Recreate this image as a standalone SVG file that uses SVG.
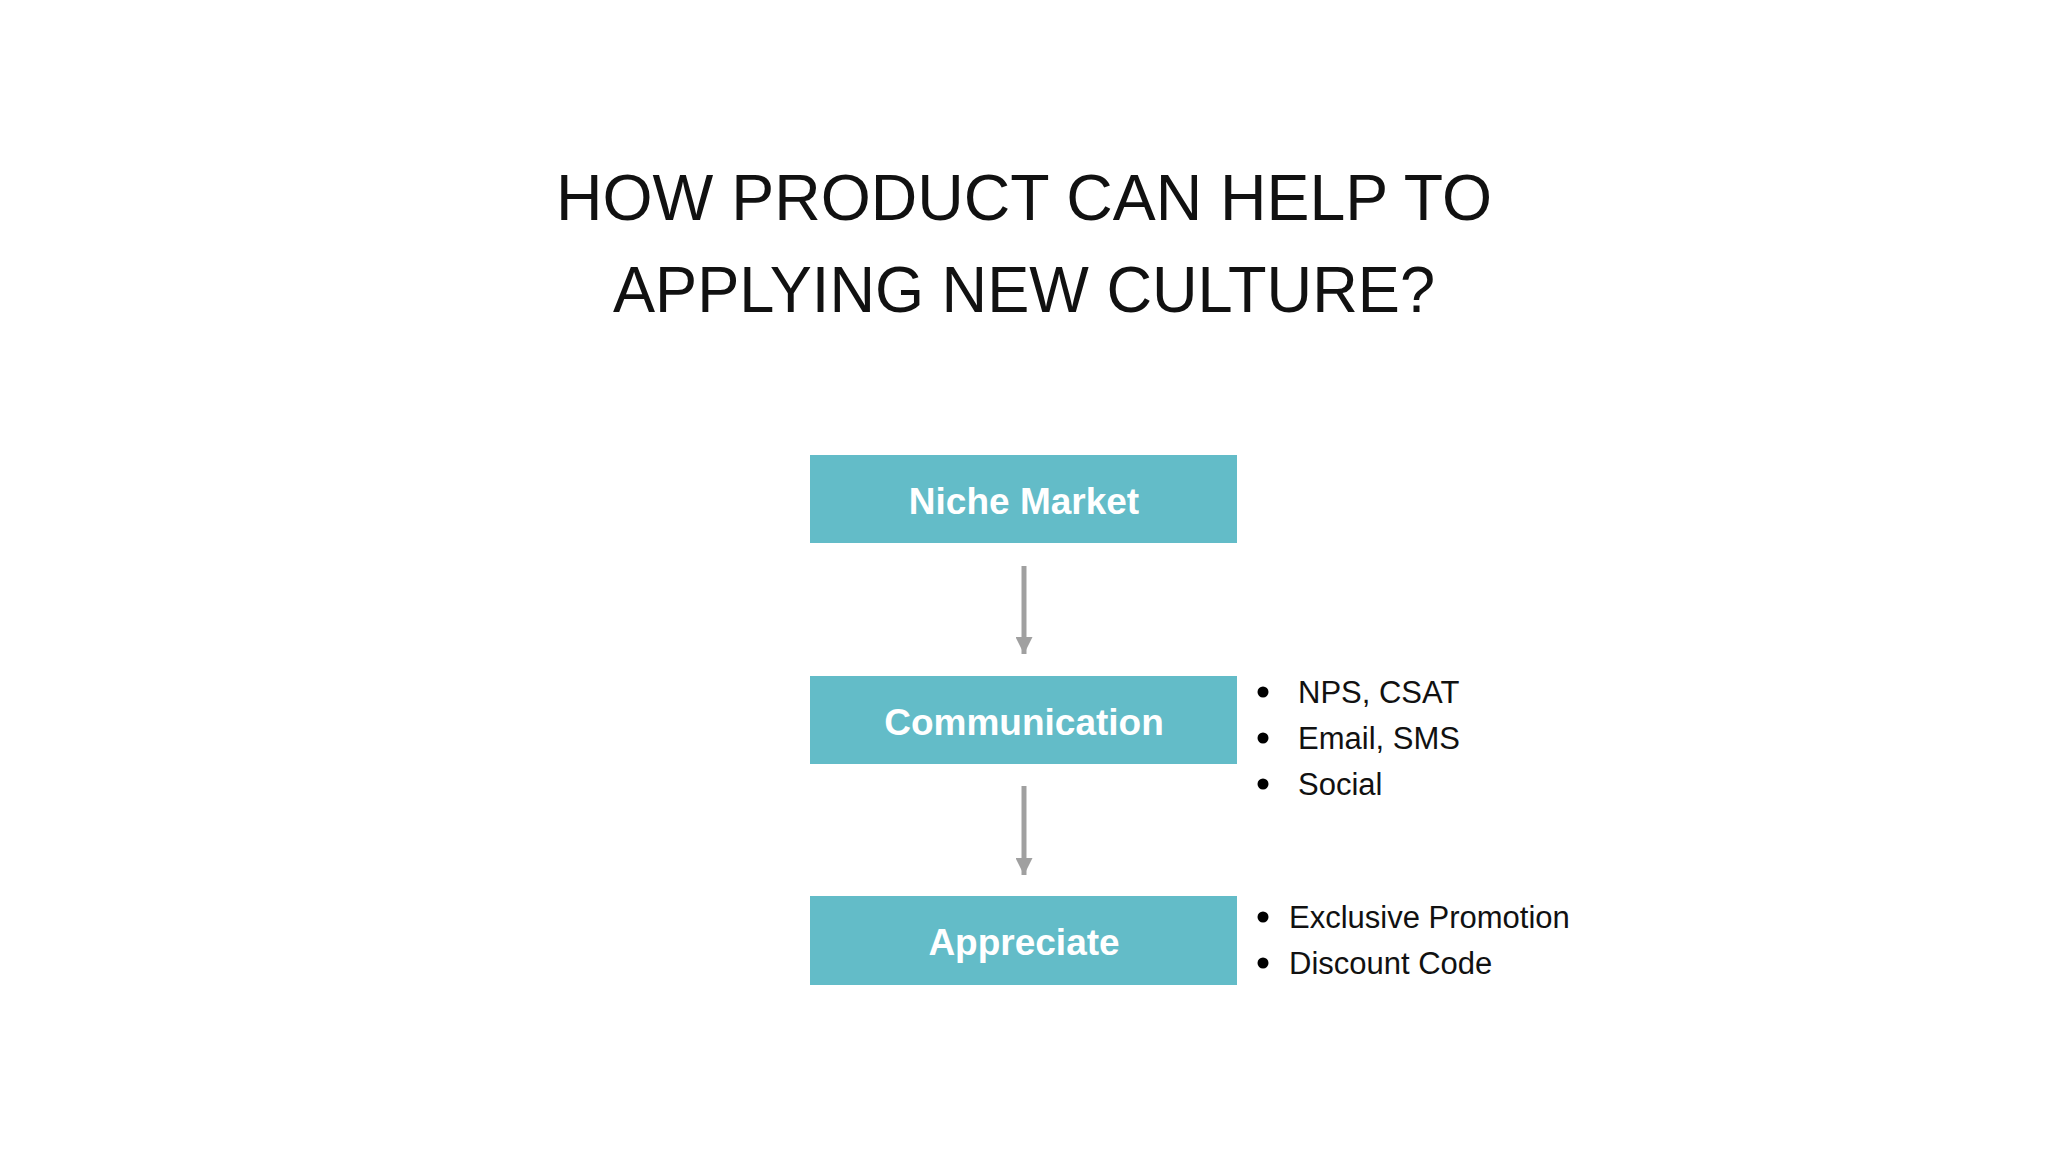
<svg xmlns="http://www.w3.org/2000/svg" width="2048" height="1152" viewBox="0 0 2048 1152">
  <style>
    .title { font-family: "Liberation Sans", Arial, sans-serif; font-size: 64px; fill: #111111; text-anchor: middle; }
    .box { fill: #63bcc8; }
    .label { font-family: "Liberation Sans", Arial, sans-serif; font-weight: bold; font-size: 37px; fill: #ffffff; text-anchor: middle; }
    .item { font-family: "Liberation Sans", Arial, sans-serif; font-size: 31px; fill: #111111; }
    .dot { fill: #000000; }
    .conn { stroke: #a0a0a0; stroke-width: 5; fill: none; }
  </style>
  <defs>
    <marker id="arrow" viewBox="0 0 10 10" refX="10" refY="5" markerWidth="3.4" markerHeight="3.4" markerUnits="strokeWidth" orient="auto">
      <path d="M0,0 L10,5 L0,10 Z" fill="#a0a0a0"/>
    </marker>
  </defs>
  <rect width="2048" height="1152" fill="#ffffff"/>
  <g id="title">
    <text class="title" x="1024" y="220" textLength="936" lengthAdjust="spacingAndGlyphs">HOW PRODUCT CAN HELP TO</text>
    <text class="title" x="1024" y="312" textLength="822" lengthAdjust="spacingAndGlyphs">APPLYING NEW CULTURE?</text>
  </g>
  <g id="connectors">
    <line class="conn" x1="1024" y1="566" x2="1024" y2="654" marker-end="url(#arrow)"/>
    <line class="conn" x1="1024" y1="786" x2="1024" y2="875" marker-end="url(#arrow)"/>
  </g>
  <g id="node-niche">
    <rect class="box" x="810" y="455" width="427" height="88"/>
    <text class="label" x="1024" y="514">Niche Market</text>
  </g>
  <g id="node-communication">
    <rect class="box" x="810" y="676" width="427" height="88"/>
    <text class="label" x="1024" y="735">Communication</text>
  </g>
  <g id="node-appreciate">
    <rect class="box" x="810" y="896" width="427" height="89"/>
    <text class="label" x="1024" y="955">Appreciate</text>
  </g>
  <g id="list-communication">
    <circle class="dot" cx="1263" cy="692" r="5.5"/>
    <text class="item" x="1298" y="703">NPS, CSAT</text>
    <circle class="dot" cx="1263" cy="738" r="5.5"/>
    <text class="item" x="1298" y="749">Email, SMS</text>
    <circle class="dot" cx="1263" cy="784" r="5.5"/>
    <text class="item" x="1298" y="795">Social</text>
  </g>
  <g id="list-appreciate">
    <circle class="dot" cx="1263" cy="917" r="5.5"/>
    <text class="item" x="1289" y="928">Exclusive Promotion</text>
    <circle class="dot" cx="1263" cy="963" r="5.5"/>
    <text class="item" x="1289" y="974">Discount Code</text>
  </g>
</svg>
